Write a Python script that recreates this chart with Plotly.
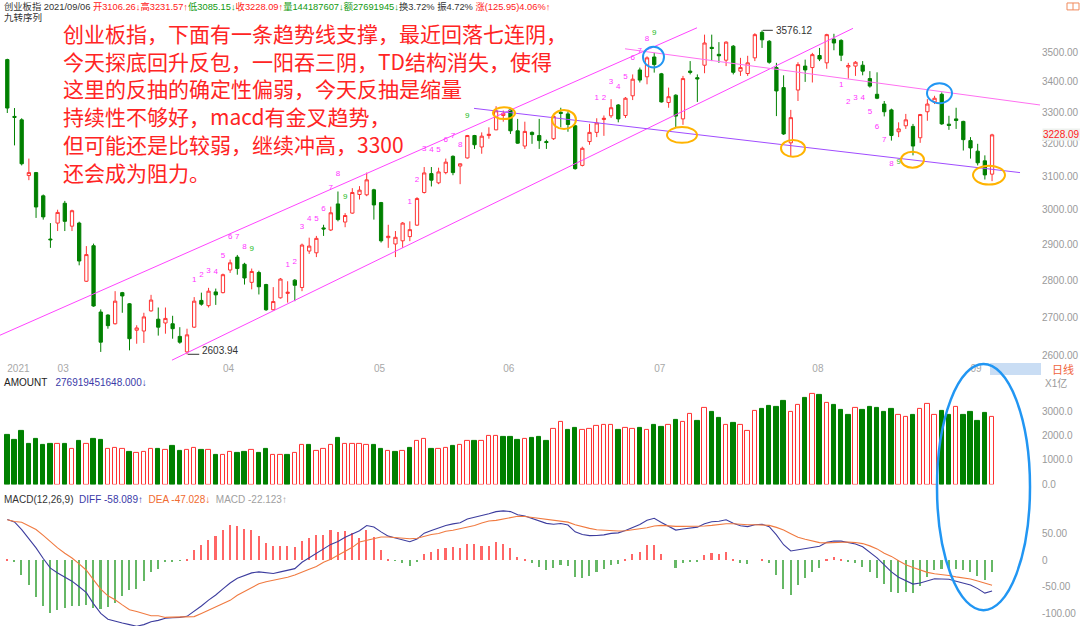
import math
import pandas as pd
import plotly.graph_objects as go

W, H = 1080, 631

# ---------------- data ----------------
holidays = {"2021-04-05", "2021-05-03", "2021-05-04", "2021-05-05", "2021-06-14"}
dates = [d.strftime("%Y-%m-%d") for d in pd.bdate_range("2021-02-18", "2021-09-06")
         if d.strftime("%Y-%m-%d") not in holidays]

open_ = [3475, 3287, 3276, 3102, 3111, 3041, 2915, 2961, 3019, 2952,
         2961, 2797, 2896, 2714, 2706, 2683, 2766, 2736, 2666, 2664,
         2717, 2695, 2685, 2683, 2650, 2610, 2674, 2745, 2731, 2768,
         2766, 2828, 2864, 2844, 2794, 2821, 2788, 2720, 2752, 2764,
         2800, 2780, 2881, 2876, 2947, 2941, 3017, 2964, 2990, 3045,
         3044, 3059, 3021, 2919, 2901, 2910, 2922, 2955, 3051, 3108,
         3080, 3111, 3161, 3131, 3156, 3226, 3190, 3226, 3244, 3290,
         3308, 3241, 3193, 3236, 3226, 3207, 3216, 3300, 3295, 3257,
         3133, 3207, 3236, 3277, 3289, 3324, 3290, 3354, 3440, 3417,
         3484, 3427, 3332, 3356, 3279, 3436, 3414, 3456, 3517, 3493,
         3473, 3521, 3436, 3428, 3481, 3569, 3538, 3448, 3381, 3203,
         3373, 3453, 3448, 3489, 3464, 3545, 3541, 3450, 3453, 3456,
         3411, 3359, 3327, 3308, 3238, 3257, 3255, 3219, 3302, 3334,
         3359, 3262, 3279, 3271, 3210, 3177, 3147, 3106.26]
high = [3478, 3314, 3281, 3154, 3113, 3045, 2961, 3000, 3026, 3000,
        2965, 2895, 2902, 2721, 2708, 2770, 2768, 2738, 2679, 2712,
        2760, 2726, 2726, 2704, 2674, 2670, 2754, 2766, 2779, 2777,
        2818, 2857, 2870, 2848, 2832, 2826, 2790, 2781, 2806, 2797,
        2803, 2902, 2919, 2924, 2956, 3009, 3054, 2990, 3064, 3070,
        3111, 3062, 3023, 2956, 2938, 2964, 2966, 3037, 3128, 3128,
        3126, 3154, 3164, 3139, 3228, 3228, 3236, 3252, 3320, 3306,
        3311, 3279, 3270, 3239, 3279, 3213, 3295, 3315, 3303, 3260,
        3191, 3263, 3281, 3290, 3343, 3327, 3350, 3425, 3448, 3486,
        3498, 3430, 3381, 3359, 3420, 3470, 3425, 3561, 3561, 3535,
        3538, 3525, 3481, 3488, 3566, 3576.12, 3542, 3464, 3422, 3308,
        3466, 3475, 3498, 3515, 3564, 3564, 3545, 3464, 3470, 3470,
        3436, 3432, 3337, 3312, 3268, 3295, 3263, 3295, 3343, 3354,
        3365, 3289, 3315, 3273, 3221, 3200, 3164, 3231.57]
low = [3298, 3195, 3133, 3088, 2976, 2971, 2890, 2938, 2938, 2938,
       2841, 2795, 2728, 2610, 2670, 2681, 2712, 2614, 2631, 2633,
       2715, 2652, 2657, 2644, 2631, 2603.94, 2672, 2731, 2726, 2733,
       2764, 2820, 2815, 2788, 2775, 2761, 2717, 2718, 2750, 2739,
       2743, 2770, 2873, 2864, 2924, 2938, 2966, 2949, 2988, 3030,
       3040, 2971, 2905, 2890, 2864, 2890, 2909, 2953, 3048, 3069,
       3076, 3106, 3103, 3076, 3154, 3184, 3169, 3216, 3243, 3270,
       3231, 3200, 3184, 3200, 3184, 3184, 3212, 3252, 3238, 3120,
       3130, 3197, 3221, 3225, 3282, 3268, 3282, 3340, 3398, 3392,
       3431, 3332, 3315, 3252, 3260, 3425, 3334, 3429, 3470, 3464,
       3453, 3425, 3420, 3420, 3470, 3515, 3461, 3288, 3228, 3162,
       3337, 3400, 3398, 3470, 3444, 3507, 3470, 3411, 3420, 3422,
       3381, 3343, 3287, 3210, 3221, 3247, 3164, 3203, 3273, 3327,
       3260, 3244, 3247, 3179, 3154, 3133, 3090, 3085.15]
close = [3314, 3284, 3138, 3111, 3008, 2979, 2913, 2992, 2966, 2997,
         2853, 2871, 2730, 2635, 2678, 2743, 2757, 2644, 2672, 2701,
         2746, 2674, 2697, 2670, 2635, 2654, 2743, 2735, 2770, 2760,
         2815, 2848, 2832, 2806, 2824, 2782, 2720, 2742, 2803, 2767,
         2786, 2898, 2895, 2917, 2944, 2991, 2971, 2983, 3051, 3058,
         3089, 3014, 2910, 2923, 2920, 2961, 2942, 3033, 3110, 3088,
         3113, 3143, 3111, 3138, 3226, 3197, 3224, 3230, 3305, 3297,
         3241, 3202, 3239, 3229, 3210, 3204, 3287, 3297, 3261, 3123,
         3186, 3236, 3266, 3281, 3315, 3279, 3346, 3409, 3406, 3481,
         3458, 3334, 3351, 3288, 3411, 3432, 3410, 3532, 3513, 3488,
         3535, 3432, 3448, 3464, 3561, 3543, 3466, 3370, 3231, 3283,
         3458, 3440, 3492, 3477, 3561, 3532, 3490, 3455, 3466, 3436,
         3386, 3346, 3302, 3226, 3247, 3276, 3193, 3293, 3327, 3346,
         3263, 3258, 3274, 3213, 3187, 3141, 3104, 3228.09]

# turnover, unit: 100 million (亿)
amount = [2027, 1827, 2200, 1653, 1867, 1600, 1653, 1653, 1653, 1440,
          1760, 1667, 1867, 1840, 1467, 1493, 1467, 1347, 1307, 1333,
          1440, 1440, 1400, 1573, 1387, 1400, 1493, 1413, 1400, 1213,
          1187, 1333, 1280, 1347, 1400, 1280, 1440, 1227, 1213, 1187,
          1307, 1627, 1600, 1360, 1467, 1627, 1893, 1667, 1640, 1640,
          1627, 1600, 1467, 1373, 1347, 1373, 1493, 1787, 1867, 1467,
          1467, 1507, 1573, 1627, 1787, 1760, 1787, 2000, 2000, 1947,
          1947, 1840, 1867, 1920, 1947, 1760, 2267, 2560, 2240, 2293,
          2213, 2267, 2387, 2413, 2413, 2213, 2293, 2267, 2293, 2240,
          2453, 2347, 2413, 2653, 2560, 2893, 2613, 3120, 2947, 2720,
          2453, 2520, 2427, 2187, 2987, 3107, 3227, 3187, 3427, 2947,
          3253, 3547, 3693, 3667, 3347, 3267, 3027, 2840, 3133, 3053,
          3187, 3147, 2947, 3107, 2840, 2747, 2827, 3107, 3280, 2840,
          3000, 2840, 3187, 2840, 2947, 2587, 2920, 2769.19]

dif = [76.2, 71.5, 57, 41, 23, 3, -15, -24, -32, -39.5,
       -50, -61, -82, -100, -111, -115, -118, -121, -124, -121,
       -115.5, -113, -109, -108, -107.5, -105.5, -96.5, -86, -75, -65.5,
       -54, -43, -34, -29, -24, -22, -24, -25, -22, -19,
       -16, -4, 4, 12, 20, 29.5, 35, 43, 49, 55,
       65, 62, 53, 45, 41.5, 38, 34.5, 39.5, 50.5, 55.5,
       60, 65, 68, 70, 77, 80, 83, 87, 91, 92.4,
       91, 85.2, 82.9, 77.8, 73, 69, 67.4, 68.7, 65.8, 53,
       48, 46, 46.1, 47.3, 50.1, 51.1, 55.7, 61.9, 66.9, 74.8,
       78.4, 70.6, 63.9, 56.3, 58.5, 60, 61.8, 68.4, 72.1, 73,
       75.8, 69.3, 64.5, 62.9, 66.4, 67.4, 62.6, 47.4, 28.9, 17.1,
       19.3, 22.1, 24.4, 25.9, 33.3, 35.9, 35.6, 33.1, 30.4, 25.0,
       15.2, 4.1, -9, -22, -32, -38, -45, -43, -39, -35,
       -35.5, -36, -39.5, -43, -46.5, -53.5, -61.9, -58.089]
dea = [75.7, 72.5, 71, 64, 57.5, 46.5, 34.5, 23, 13, 4,
       -7, -19, -37, -54.5, -67, -74.5, -84, -93, -96.5, -101,
       -104.5, -104.5, -107.5, -107, -107, -107, -106, -100, -94, -88,
       -82.5, -75.5, -66, -58.5, -52, -44.5, -40.5, -38, -35, -32,
       -28, -22, -17, -12, -4, 1.5, 8.5, 16, 24, 34,
       37, 40.5, 43.5, 43.5, 42, 41, 40, 41, 45, 48,
       50, 54, 56, 59, 62, 65, 69.5, 73.5, 74.5, 76.9,
       80, 82.2, 81.9, 80.3, 77.5, 76.3, 74.4, 73.2, 71.3, 66.4,
       62.7, 59.6, 57.1, 55.8, 54.6, 54.6, 55.2, 56.4, 58.9, 60.8,
       63.9, 65.1, 63.9, 63.3, 63.3, 63.3, 63.3, 63.9, 65.1, 67,
       68.3, 68.3, 67, 66.4, 66.4, 66.4, 65.1, 61.4, 56.4, 49.6,
       42.8, 39.1, 35.4, 32.9, 32.3, 32.9, 34.1, 34.1, 32.9, 31,
       26.7, 21.1, 13, 7, -1, -8.5, -14, -19, -23, -25.5,
       -27, -29, -31.5, -33.5, -35.5, -39, -43.4, -47.028]
macd_bar = [1, -2, -28, -46, -69, -87, -99, -94, -90, -87,
            -86, -84, -90, -91, -88, -81, -68, -56, -55, -40,
            -22, -17, -3, -2, -1, 3, 19, 28, 38, 45,
            57, 65, 64, 59, 56, 45, 33, 26, 26, 26,
            24, 36, 42, 48, 48, 56, 53, 54, 50, 42,
            56, 43, 19, 3, -1, -6, -11, -3, 11, 15,
            20, 22, 24, 22, 30, 30, 27, 27, 34, 31,
            22, 6, 2, -5, -12, -19, -14, -9, -11, -31,
            -34, -30, -22, -17, -9, -7, 1, 11, 16, 28,
            29, 11, 0, -14, -6, -3, -3, 9, 14, 12,
            15, 2, -5, -7, 0, 2, -5, -28, -55, -65,
            -47, -34, -22, -14, 2, 6, 3, -2, -5, -12,
            -23, -34, -45, -59, -62, -59, -62, -48, -32, -19,
            -17, -14, -16, -19, -22, -29, -37, -22.123]

# TD sequential ("九转序列") counts: candle index, label, price position
td_idx = list(range(26, 35)) + list(range(39, 48)) + list(range(56, 65)) + \
         list(range(82, 91)) + list(range(116, 125))
td_text = [str(n) for n in range(1, 10)] * 5
td_price = [2801, 2815, 2826, 2823, 2868, 2922, 2922, 2893, 2887,
            2843, 2851, 2950, 2973, 2973, 3002, 3064, 3108, 3037,
            3022, 3090, 3184, 3181, 3181, 3213, 3225, 3197, 3288,
            3346, 3346, 3399, 3382, 3415, 3479, 3506, 3547, 3565,
            3389, 3334, 3346, 3346, 3301, 3253, 3213, 3138, 3144]

# hand-drawn trend lines (candle index, price)
trend_lines = [
    ((-1.02, 2653), (95.95, 3585), "#ff44ff"),
    ((22.91, 2589), (117.65, 3583), "#ff44ff"),
    ((85.94, 3512), (143.67, 3324), "#ff70f0"),
    ((64.93, 3313), (140.89, 3111), "#a04cff"),
]

comment_lines = [
    "创业板指，下面有一条趋势线支撑，最近回落七连阴，",
    "今天探底回升反包，一阳吞三阴，TD结构消失，使得",
    "这里的反抽的确定性偏弱，今天反抽是缩量",
    "持续性不够好，macd有金叉趋势，",
    "但可能还是比较弱，继续冲高，3300",
    "还会成为阻力。",
]

price_ticks = [2600, 2700, 2800, 2900, 3000, 3100, 3200, 3300, 3400, 3500]
amount_ticks = [0, 1000, 2000, 3000]
macd_ticks = [-100, -50, 0, 50]
macd_tick_text = ["-100.00", "-50.00", "0", "50.00"]

# ---------------- helpers ----------------
RED = "#ff3333"
GREEN = "#008000"
AX = "#9a9a9a"
FONT = "Liberation Sans, Arial, Noto Sans CJK SC, sans-serif"


def fx(px):
    return px / W


def fy(px):
    return 1 - px / H


idx = list(range(len(dates)))
month_ticks = [0] + [i for i in range(1, len(dates)) if dates[i][5:7] != dates[i - 1][5:7]]
month_text = ["2021"] + [dates[i][5:7] for i in month_ticks[1:]]

vol_up = [False] + [close[i] >= close[i - 1] for i in range(1, len(close))]

X_RANGE = [(0 - 7.3) / 7.188, (1041 - 7.3) / 7.188]

fig = go.Figure()

fig.add_trace(go.Candlestick(
    x=idx, open=open_, high=high, low=low, close=close,
    increasing=dict(line=dict(color=RED, width=1), fillcolor="white"),
    decreasing=dict(line=dict(color=GREEN, width=1), fillcolor=GREEN),
    whiskerwidth=0, hoverinfo="skip", xaxis="x", yaxis="y", name="K"))

for (x0, p0), (x1, p1), col in trend_lines:
    fig.add_trace(go.Scatter(x=[x0, x1], y=[p0, p1], mode="lines",
                             line=dict(color=col, width=1), hoverinfo="skip",
                             xaxis="x", yaxis="y"))

fig.add_trace(go.Scatter(
    x=td_idx, y=td_price, text=td_text, mode="text",
    textfont=dict(size=8, family=FONT,
                  color=["#22bb22" if t == "9" else "#ff33ff" for t in td_text]),
    hoverinfo="skip", xaxis="x", yaxis="y"))

# extreme markers
fig.add_trace(go.Scatter(x=[105.1, 106.5], y=[3576.12, 3576.12], mode="lines",
                         line=dict(color="#333333", width=1), hoverinfo="skip",
                         xaxis="x", yaxis="y"))
fig.add_trace(go.Scatter(x=[25.1, 26.7], y=[2603.94, 2603.94], mode="lines",
                         line=dict(color="#333333", width=1), hoverinfo="skip",
                         xaxis="x", yaxis="y"))

fig.add_trace(go.Bar(
    x=idx, y=amount, width=0.62,
    marker=dict(color=["white" if u else GREEN for u in vol_up],
                line=dict(color=[RED if u else GREEN for u in vol_up], width=1)),
    hoverinfo="skip", xaxis="x2", yaxis="y2"))

fig.add_trace(go.Bar(
    x=idx, y=macd_bar, width=0.22,
    marker=dict(color=["#ff6666" if v >= 0 else "#66b866" for v in macd_bar], line=dict(width=0)),
    hoverinfo="skip", xaxis="x3", yaxis="y3"))
fig.add_trace(go.Scatter(x=idx, y=dif, mode="lines", line=dict(color="#3d3d9e", width=1.1),
                         hoverinfo="skip", xaxis="x3", yaxis="y3"))
fig.add_trace(go.Scatter(x=idx, y=dea, mode="lines", line=dict(color="#f07a40", width=1.1),
                         hoverinfo="skip", xaxis="x3", yaxis="y3"))

common_x = dict(domain=[0, fx(1041)], range=X_RANGE, showgrid=False, zeroline=False,
                showline=False, ticks="", fixedrange=True)
common_y = dict(side="right", showgrid=False, zeroline=False, showline=False, ticks="",
                tickfont=dict(size=10, color=AX, family=FONT), fixedrange=True)

fig.update_layout(
    width=W, height=H, margin=dict(l=0, r=0, t=0, b=0),
    paper_bgcolor="white", plot_bgcolor="white", showlegend=False,
    boxgap=0.35, bargap=0,
    font=dict(family=FONT, size=10, color="#333333"),
    xaxis=dict(common_x, anchor="y", rangeslider=dict(visible=False),
               tickmode="array", tickvals=month_ticks, ticktext=month_text,
               ticklabelposition="outside right",
               tickfont=dict(size=10, color="#a8a8a8", family=FONT)),
    xaxis2=dict(common_x, anchor="y2", matches="x", showticklabels=False),
    xaxis3=dict(common_x, anchor="y3", matches="x", showticklabels=False),
    yaxis=dict(common_y, type="log", domain=[fy(364), fy(20)],
               range=[math.log10(2586.6), math.log10(3613)],
               tickmode="array", tickvals=price_ticks,
               ticktext=[f"{v}.00" for v in price_ticks], anchor="x"),
    yaxis2=dict(common_y, domain=[fy(488.3), fy(392)], range=[0, 3904],
                tickmode="array", tickvals=amount_ticks,
                ticktext=[f"{v}.0" for v in amount_ticks], anchor="x2"),
    yaxis3=dict(common_y, domain=[0, fy(505)], range=[-123.6, 110.9],
                tickmode="array", tickvals=macd_ticks, ticktext=macd_tick_text, anchor="x3"),
)

ann = []
header = ('<span style="color:#333">创业板指 2021/09/06 </span>'
          '<span style="color:#ff2020">开3106.26↓</span>'
          '<span style="color:#ff2020">高3231.57↑</span>'
          '<span style="color:#119911">低3085.15↓</span>'
          '<span style="color:#ff2020">收3228.09↑</span>'
          '<span style="color:#119911">量144187607↓</span>'
          '<span style="color:#119911">额27691945↓</span>'
          '<span style="color:#333">换3.72% 振4.72% </span>'
          '<span style="color:#ff2020">涨(125.95)4.06%↑</span>')
ann.append(dict(x=fx(2), y=fy(7), xref="paper", yref="paper", text=header, showarrow=False,
                xanchor="left", yanchor="middle", font=dict(size=9.3, family=FONT)))
ann.append(dict(x=fx(2), y=fy(18), xref="paper", yref="paper", text="九转序列", showarrow=False,
                xanchor="left", yanchor="middle", font=dict(size=9.5, color="#333", family=FONT)))

line_y = [33, 61, 89, 117, 145, 173]
for t, yy in zip(comment_lines, line_y):
    ann.append(dict(x=fx(61), y=fy(yy), xref="paper", yref="paper", text=t, showarrow=False,
                    xanchor="left", yanchor="middle",
                    font=dict(size=21, color="#ff2424", family="Noto Sans CJK SC")))

ann.append(dict(x=106.7, y=math.log10(3576.12), xref="x", yref="y", text="3576.12",
                showarrow=False, xanchor="left", yanchor="middle",
                font=dict(size=10, color="#333", family=FONT)))
ann.append(dict(x=26.8, y=math.log10(2603.94), xref="x", yref="y", text="2603.94",
                showarrow=False, xanchor="left", yanchor="middle", yshift=4,
                font=dict(size=10, color="#333", family=FONT)))
ann.append(dict(x=fx(1042), y=math.log10(3228.09), xref="paper", yref="y", text="3228.09",
                showarrow=False, xanchor="left", yanchor="middle", bgcolor="#eef1ee",
                borderpad=0, font=dict(size=10, color="#ff2020", family=FONT)))

ann.append(dict(x=fx(2), y=fy(386), xref="paper", yref="paper",
                text='<span style="color:#222">AMOUNT</span>   '
                     '<span style="color:#3a3aa8">276919451648.000↓</span>',
                showarrow=False, xanchor="left", yanchor="middle", font=dict(size=10, family=FONT)))
ann.append(dict(x=fx(1043), y=fy(386), xref="paper", yref="paper", text="X1亿",
                showarrow=False, xanchor="left", yanchor="middle",
                font=dict(size=10, color=AX, family=FONT)))
ann.append(dict(x=fx(2), y=fy(503), xref="paper", yref="paper",
                text='<span style="color:#333">MACD(12,26,9)</span>  '
                     '<span style="color:#3a3aa8">DIFF -58.089↑</span>  '
                     '<span style="color:#f06a30">DEA -47.028↓</span>  '
                     '<span style="color:#a0a0a0">MACD -22.123↑</span>',
                showarrow=False, xanchor="left", yanchor="middle", font=dict(size=10, family=FONT)))
ann.append(dict(x=fx(1050), y=fy(372), xref="paper", yref="paper", text="日线",
                showarrow=False, xanchor="left", yanchor="middle",
                font=dict(size=11, color="#f0643c", family="Noto Sans CJK SC")))
fig.update_layout(annotations=ann)

shapes = []
yellow = [(493, 108, 515, 120), (552, 111, 576, 130), (667, 128, 697, 144),
          (781, 141, 805, 158), (901, 153, 924, 169), (973, 167, 1005, 186)]
for x0, y0, x1, y1 in yellow:
    shapes.append(dict(type="circle", xref="paper", yref="paper", x0=fx(x0), x1=fx(x1),
                       y0=fy(y1), y1=fy(y0), line=dict(color="#ffb300", width=2)))
blue = [(643, 47, 664, 68), (927, 84, 952, 104)]
for x0, y0, x1, y1 in blue:
    shapes.append(dict(type="circle", xref="paper", yref="paper", x0=fx(x0), x1=fx(x1),
                       y0=fy(y1), y1=fy(y0), line=dict(color="#2196f3", width=2)))
shapes.append(dict(type="circle", xref="paper", yref="paper", x0=fx(937), x1=fx(1030),
                   y0=fy(615), y1=fy(367), line=dict(color="#2196f3", width=2.5)))
shapes.append(dict(type="rect", xref="paper", yref="paper", x0=fx(990), x1=fx(1041),
                   y0=fy(378), y1=fy(366), fillcolor="#c9ddf4", line=dict(width=0), layer="below"))
shapes.append(dict(type="rect", xref="paper", yref="paper", x0=fx(1067), x1=fx(1079),
                   y0=fy(10), y1=fy(3), line=dict(color="#f08a5d", width=1)))
shapes.append(dict(type="line", xref="paper", yref="paper", x0=fx(1073), x1=fx(1073),
                   y0=fy(10), y1=fy(3), line=dict(color="#f08a5d", width=1)))
fig.update_layout(shapes=shapes)

fig.write_html("out.html")
